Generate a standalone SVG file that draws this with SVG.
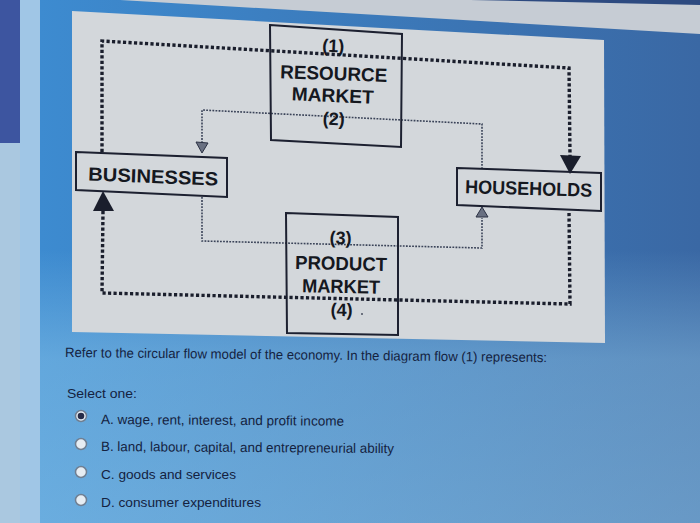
<svg xmlns="http://www.w3.org/2000/svg" width="700" height="523" viewBox="0 0 700 523">
  <defs>
    <linearGradient id="blueH" x1="40" y1="0" x2="700" y2="0" gradientUnits="userSpaceOnUse">
      <stop offset="0" stop-color="#3d8bd0"/>
      <stop offset="1" stop-color="#3a68a4"/>
    </linearGradient>
    <linearGradient id="lowV" x1="0" y1="250" x2="0" y2="523" gradientUnits="userSpaceOnUse">
      <stop offset="0" stop-color="#a8dcf4" stop-opacity="0"/>
      <stop offset="0.4" stop-color="#a8dcf4" stop-opacity="0.35"/>
      <stop offset="1" stop-color="#a8dcf4" stop-opacity="0.42"/>
    </linearGradient>
    <style>
      .box { fill: none; stroke: #1c2030; stroke-width: 2; }
      .lbl { font-family: "Liberation Sans", Arial, sans-serif; font-weight: bold; fill: #15181f; text-anchor: middle; }
      .thick { fill: none; stroke: #1a1e2c; stroke-width: 3.4; stroke-dasharray: 3.2 2.3; }
      .thin { fill: none; stroke: #3a4358; stroke-width: 1.6; stroke-dasharray: 1.8 1.3; }
      .q { font-family: "Liberation Sans", Arial, sans-serif; fill: #14223f; font-size: 13.5px; }
      .radio { fill: #e6edf3; stroke: #6f7f92; stroke-width: 1.5; }
    </style>
  </defs>

  <!-- background -->
  <rect x="0" y="0" width="700" height="523" fill="#aac8e0"/>
  <rect x="0" y="0" width="20" height="143" fill="#3d55a0"/>
  <rect x="20" y="0" width="20" height="523" fill="#a0c6e6"/>
  <rect x="40" y="0" width="660" height="523" fill="url(#blueH)"/>
  <rect x="40" y="250" width="660" height="273" fill="url(#lowV)"/>
  <polygon points="120,0 700,0 700,34" fill="#c6ccd4"/>
  <polygon points="470,0 700,0 700,5" fill="#2d4a80"/>
  <polygon points="72,11 604,40 605,343 72,332" fill="#d3d7db"/>

  <!-- connectors -->
  <g id="connectors">
    <polyline class="thick" points="102,152 102,41 569,68 570,156"/>
    <polyline class="thick" points="103,211 102,293 570,304 569,211"/>
    <polygon points="560,155 581,156 570,174" fill="#1a1e2c"/>
    <polygon points="103,191 93,211 114,211" fill="#1a1e2c"/>
    <polyline class="thin" points="202,143 202,110 482,124 482,168"/>
    <polyline class="thin" points="202,197 202,241 482,248 482,218"/>
    <polygon points="196,142 208,143 202,153" fill="#6a7182" stroke="#2c3244" stroke-width="1"/>
    <polygon points="482,207 476,217 488,217" fill="#6a7182" stroke="#2c3244" stroke-width="1"/>
  </g>

  <!-- nodes -->
  <g id="resource-market">
    <polygon class="box" points="270,25 402,34 401,147 271,140"/>
    <text class="lbl" x="333" y="52" font-size="18" transform="rotate(2.8 333 52)">(1)</text>
    <text class="lbl" x="333.5" y="80" font-size="19" textLength="107" lengthAdjust="spacingAndGlyphs" transform="rotate(2 333 80)">RESOURCE</text>
    <text class="lbl" x="332.5" y="102" font-size="19" textLength="82" lengthAdjust="spacingAndGlyphs" transform="rotate(2.3 332 102)">MARKET</text>
    <text class="lbl" x="333.5" y="125" font-size="18" transform="rotate(2.5 333 125)">(2)</text>
  </g>
  <g id="businesses">
    <polygon class="box" points="76,152 227,158 227,197 76,190" fill="#d3d7db"/>
    <text class="lbl" x="153" y="183" font-size="19" textLength="130" lengthAdjust="spacingAndGlyphs" transform="rotate(2.2 153 183)">BUSINESSES</text>
  </g>
  <g id="households">
    <polygon class="box" points="457,168 601,173 601,211 457,205" fill="#d3d7db"/>
    <text class="lbl" x="528.5" y="195" font-size="19" textLength="127" lengthAdjust="spacingAndGlyphs" transform="rotate(1.6 528 195)">HOUSEHOLDS</text>
  </g>
  <g id="product-market">
    <polygon class="box" points="286,213 398,217 398,335 287,333"/>
    <text class="lbl" x="340.5" y="244" font-size="18" transform="rotate(1.2 340 244)">(3)</text>
    <text class="lbl" x="341" y="270" font-size="19" textLength="92" lengthAdjust="spacingAndGlyphs" transform="rotate(1.1 341 270)">PRODUCT</text>
    <text class="lbl" x="341" y="293" font-size="19" textLength="78" lengthAdjust="spacingAndGlyphs" transform="rotate(1.1 341 293)">MARKET</text>
    <text class="lbl" x="341.5" y="316" font-size="18" transform="rotate(1.1 341 316)">(4)</text>
    <circle cx="362" cy="314" r="1" fill="#4a5060"/>
  </g>

  <!-- question -->
  <g id="question">
    <text class="q" x="65" y="357" textLength="482" lengthAdjust="spacingAndGlyphs" transform="rotate(0.6 65 357)">Refer to the circular flow model of the economy. In the diagram flow (1) represents:</text>
    <text class="q" x="67" y="398" textLength="70" lengthAdjust="spacingAndGlyphs">Select one:</text>
    <circle class="radio" cx="81" cy="416" r="5.5"/>
    <circle cx="81" cy="416" r="3.3" fill="#262c48"/>
    <text class="q" x="101" y="424" textLength="243" lengthAdjust="spacingAndGlyphs" transform="rotate(0.4 101 424)">A. wage, rent, interest, and profit income</text>
    <circle class="radio" cx="81" cy="444" r="5.5"/>
    <text class="q" x="101" y="451" textLength="293" lengthAdjust="spacingAndGlyphs" transform="rotate(0.4 101 451)">B. land, labour, capital, and entrepreneurial ability</text>
    <circle class="radio" cx="81" cy="472" r="5.5"/>
    <text class="q" x="101" y="479" textLength="135" lengthAdjust="spacingAndGlyphs">C. goods and services</text>
    <circle class="radio" cx="81" cy="500" r="5.5"/>
    <text class="q" x="101" y="507" textLength="160" lengthAdjust="spacingAndGlyphs">D. consumer expenditures</text>
  </g>
</svg>
